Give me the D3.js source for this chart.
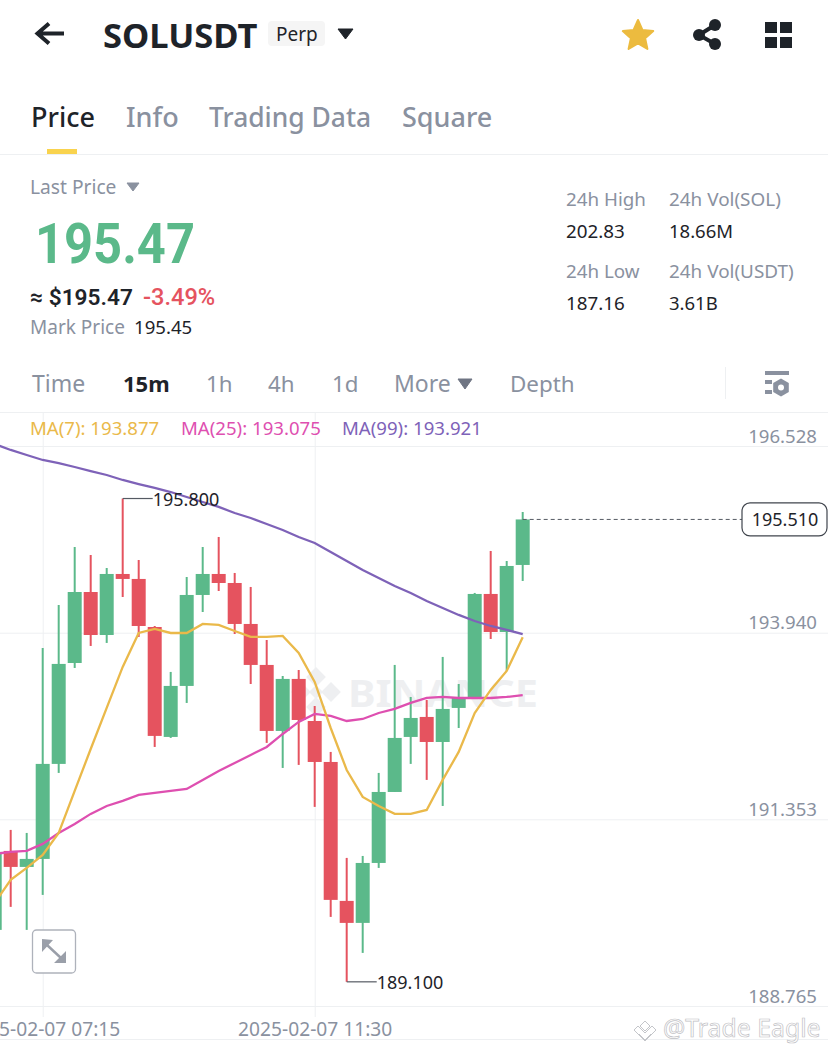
<!DOCTYPE html>
<html>
<head>
<meta charset="utf-8">
<script src="https://cdn.jsdelivr.net/npm/d3@7"></script>
<style>
  body { margin: 0; background: #fff; }
  svg { display: block; }
  text { font-family: "Noto Sans", sans-serif; }
</style>
</head>
<body>
<script>
var w = 828;
var h = 1052;

var dark = '#1e2329';
var grey = '#8a919f';
var green = '#5bb98a';
var red = '#e5535f';
var gridColor = '#eef0f2';
var ma7Color = '#eab94a';
var ma25Color = '#de4fb0';
var ma99Color = '#7e62b8';

// 15m candles, 2025-02-07
var times = ['06:30','06:45','07:00','07:15','07:30','07:45','08:00','08:15','08:30','08:45','09:00',
  '09:15','09:30','09:45','10:00','10:15','10:30','10:45','11:00','11:15','11:30','11:45','12:00',
  '12:15','12:30','12:45','13:00','13:15','13:30','13:45','14:00','14:15','14:30','14:45'];
var opens = [189.820,190.915,190.693,190.804,192.121,193.520,194.504,193.908,194.754,194.685,194.019,
  192.495,193.202,194.463,194.754,194.629,194.061,193.493,192.578,193.299,192.716,192.148,190.222,
  189.917,190.748,191.732,192.495,192.772,192.425,192.897,193.035,194.477,193.950,194.879];
var highs = [191.067,191.206,191.164,193.728,194.324,195.128,195.017,194.837,195.800,194.948,194.033,
  193.396,194.712,195.128,195.267,194.768,194.574,193.839,193.340,193.423,192.924,192.287,190.818,
  190.845,191.996,193.493,193.049,193.008,193.604,193.229,194.491,195.073,194.934,195.613];
var lows = [189.681,190.139,189.820,190.305,191.996,193.451,193.756,193.798,194.435,193.881,192.356,
  192.481,192.966,194.227,194.518,193.922,193.229,192.412,192.065,192.107,191.525,190.000,189.100,
  189.501,190.679,191.732,192.121,191.899,191.538,192.619,193.021,193.853,193.409,194.657];
var closes = [190.901,190.693,190.804,192.121,193.507,194.504,193.908,194.754,194.685,194.033,192.509,
  193.202,194.463,194.754,194.629,194.061,193.493,192.578,193.299,192.730,192.148,190.236,189.917,
  190.748,191.732,192.481,192.758,192.425,192.883,193.035,194.477,193.950,194.865,195.510];
var ma7 = [190.194,190.513,190.679,190.859,191.164,191.746,192.328,192.897,193.465,193.936,193.992,
  193.936,193.936,194.061,194.047,193.964,193.881,193.881,193.895,193.659,193.257,192.619,192.037,
  191.663,191.538,191.428,191.428,191.483,191.899,192.287,192.827,193.146,193.409,193.877];
var ma25 = [190.873,190.901,190.915,191.012,191.164,191.289,191.428,191.538,191.608,191.691,191.719,
  191.746,191.774,191.899,192.023,192.134,192.245,192.356,192.536,192.703,192.814,192.786,192.716,
  192.744,192.827,192.883,192.966,193.035,193.049,193.035,193.035,193.035,193.049,193.075];
var ma99 = [196.556,196.473,196.403,196.334,196.292,196.237,196.181,196.126,196.057,196.001,195.946,
  195.890,195.821,195.752,195.683,195.599,195.530,195.447,195.364,195.267,195.184,195.059,194.934,
  194.809,194.698,194.588,194.491,194.380,194.283,194.186,194.102,194.033,193.978,193.921];

var priceTicks = [196.528, 193.940, 191.353, 188.765];
var timeTicks = ['07:15', '11:30'];
var lastPrice = 195.510;

var parseTime = d3.timeParse('%Y-%m-%d %H:%M');
var formatTime = d3.timeFormat('%Y-%m-%d %H:%M');
function toDate(t) { return parseTime('2025-02-07 ' + t); }

var x = d3.scaleTime()
          .domain([toDate('07:15'), toDate('11:30')])
          .range([42.7, 314.7]);
var y = d3.scaleLinear()
          .domain([188.765, 196.528])
          .range([1006, 446]);

var svg = d3.select('body').append('svg')
            .attr('id', 'chart')
            .attr('width', w)
            .attr('height', h);

function label(txt, px, py, size, color, weight, anchor) {
  return svg.append('text')
      .attr('x', px)
      .attr('y', py)
      .attr('font-size', size)
      .attr('fill', color)
      .attr('font-weight', weight || 400)
      .attr('text-anchor', anchor || 'start')
      .text(txt);
}
function triangle(x0, x1, y0, y1, color) {
  svg.append('path')
      .attr('d', 'M' + x0 + ',' + y0 + 'L' + x1 + ',' + y0 + 'L' + (x0 + x1) / 2 + ',' + y1 + 'Z')
      .attr('fill', color)
      .attr('stroke', color)
      .attr('stroke-linejoin', 'round');
}

// header
svg.append('path')
    .attr('d', 'M64,33.5H38M49,23.5L37.5,33.5L49,43.5')
    .attr('fill', 'none')
    .attr('stroke', dark)
    .attr('stroke-width', 4);
label('SOLUSDT', 103, 48, 34.5, dark, 700);
svg.append('rect')
    .attr('x', 268).attr('y', 21).attr('width', 57).attr('height', 25)
    .attr('rx', 4).attr('fill', '#f5f5f5');
label('Perp', 276, 41, 19, dark);
triangle(338, 353, 29, 39, dark);

// star
var starPts = d3.range(10).map(function(i) {
  var r = i % 2 ? 7.5 : 16;
  var a = i * Math.PI / 5;
  return [638 + r * Math.sin(a), 36 - r * Math.cos(a)];
});
svg.append('polygon')
    .attr('points', starPts.join(' '))
    .attr('fill', '#ecbb3f')
    .attr('stroke', '#ecbb3f')
    .attr('stroke-width', 2)
    .attr('stroke-linejoin', 'round');

// share
svg.append('path')
    .attr('d', 'M715,25L699,35L715,44')
    .attr('fill', 'none')
    .attr('stroke', dark)
    .attr('stroke-width', 4);
[[715, 25], [699, 35], [715, 44]].forEach(function(p) {
  svg.append('circle').attr('cx', p[0]).attr('cy', p[1]).attr('r', 6).attr('fill', dark);
});

// grid icon
[[765, 22], [780, 22], [765, 37], [780, 37]].forEach(function(p) {
  svg.append('rect').attr('x', p[0]).attr('y', p[1]).attr('width', 12).attr('height', 11).attr('fill', dark);
});

// tabs
label('Price', 31, 127, 27, dark, 500);
label('Info', 126, 127, 27, grey, 500);
label('Trading Data', 209, 127, 26.4, grey, 500);
label('Square', 402, 127, 27, grey, 500);
svg.append('rect').attr('x', 47).attr('y', 149).attr('width', 30).attr('height', 5).attr('fill', '#f9d34e');
svg.append('line')
    .attr('x1', 0).attr('x2', w).attr('y1', 154.5).attr('y2', 154.5)
    .attr('stroke', gridColor);

// price block
label('Last Price', 30, 194, 19.2, grey);
triangle(127, 139, 183, 191, grey);
label('195.47', 35, 263, 56, green, 700)
    .style('font-family', 'Roboto')
    .attr('textLength', 160)
    .attr('lengthAdjust', 'spacingAndGlyphs');
label('\u2248 $195.47', 30, 305, 22.7, dark, 600).style('font-family', 'Roboto');
label('-3.49%', 143, 305, 23.6, red, 500).style('font-family', 'Roboto');
label('Mark Price', 30, 334, 19, grey);
label('195.45', 134, 334, 18.6, dark);

label('24h High', 566, 206, 18.8, grey);
label('202.83', 566, 238, 18.8, dark);
label('24h Low', 566, 278, 18.8, grey);
label('187.16', 566, 310, 18.8, dark);
label('24h Vol(SOL)', 669, 206, 18.9, grey);
label('18.66M', 669, 238, 18.5, dark);
label('24h Vol(USDT)', 669, 278, 18.9, grey);
label('3.61B', 669, 310, 18.5, dark);

// interval row
label('Time', 32, 392, 23, grey);
label('15m', 123, 392, 22, dark, 700);
label('1h', 206, 392, 22.3, grey);
label('4h', 268, 392, 22.3, grey);
label('1d', 332, 392, 22.3, grey);
label('More', 394, 392, 23, grey);
triangle(458, 472, 379, 389, '#6f7583');
label('Depth', 510, 392, 22.4, grey);
svg.append('line')
    .attr('x1', 725.5).attr('x2', 725.5).attr('y1', 367).attr('y2', 399)
    .attr('stroke', gridColor);

// settings icon
svg.append('rect').attr('x', 765).attr('y', 371).attr('width', 24).attr('height', 4).attr('fill', grey);
svg.append('rect').attr('x', 765).attr('y', 380).attr('width', 7).attr('height', 4).attr('fill', grey);
svg.append('rect').attr('x', 765).attr('y', 390).attr('width', 7).attr('height', 4).attr('fill', grey);
var hexPts = d3.range(6).map(function(i) {
  var a = i * Math.PI / 3;
  return [781 + 9 * Math.sin(a), 387.5 - 9 * Math.cos(a)];
});
svg.append('polygon').attr('points', hexPts.join(' ')).attr('fill', grey);
svg.append('circle').attr('cx', 781).attr('cy', 387.5).attr('r', 3).attr('fill', '#fff');

// chart frame
[412.5, 1039.5].forEach(function(ly) {
  svg.append('line')
      .attr('x1', 0).attr('x2', w).attr('y1', ly).attr('y2', ly)
      .attr('stroke', gridColor);
});

// axes, ticks stretched into gridlines
var yAxis = d3.axisRight(y)
              .tickValues(priceTicks)
              .tickFormat(d3.format('.3f'))
              .tickSize(w);
var yAxisG = svg.append('g').attr('class', 'y axis').call(yAxis);
yAxisG.select('.domain').remove();
yAxisG.selectAll('line').attr('stroke', gridColor);
yAxisG.selectAll('text')
    .attr('x', 817)
    .attr('dy', -4)
    .attr('text-anchor', 'end')
    .attr('font-size', 18.6)
    .attr('font-family', 'Noto Sans')
    .attr('fill', grey);

var xAxis = d3.axisBottom(x)
              .tickValues(timeTicks.map(toDate))
              .tickFormat(formatTime)
              .tickSizeInner(-605)
              .tickSizeOuter(0)
              .tickPadding(5);
var xAxisG = svg.append('g').attr('class', 'x axis')
                .attr('transform', 'translate(0,1017)')
                .call(xAxis);
xAxisG.select('.domain').remove();
xAxisG.selectAll('line').attr('stroke', gridColor);
xAxisG.selectAll('text')
    .attr('font-size', 19.2)
    .attr('font-family', 'Noto Sans')
    .attr('fill', grey);

// watermark under the candles
[[316, 677, 7], [301, 692, 7], [331, 692, 7], [316, 707, 7], [316, 692, 5]].forEach(function(p) {
  svg.append('rect')
      .attr('x', p[0] - p[2]).attr('y', p[1] - p[2]).attr('width', p[2] * 2).attr('height', p[2] * 2)
      .attr('transform', 'rotate(45 ' + p[0] + ' ' + p[1] + ')')
      .attr('fill', '#eeeff1');
});
label('BINANCE', 348, 707, 38, '#eeeff1', 700)
    .attr('textLength', 190)
    .attr('lengthAdjust', 'spacingAndGlyphs');

// candles
var candles = times.map(function(t, i) {
  return { time: toDate(t), open: opens[i], high: highs[i], low: lows[i], close: closes[i] };
});
function candleColor(d) { return d.close >= d.open ? green : red; }

var display = svg.append('g').classed('display', true);
display.selectAll('.wick')
    .data(candles)
    .enter()
      .append('line')
      .classed('wick', true)
      .attr('x1', function(d) { return x(d.time); })
      .attr('x2', function(d) { return x(d.time); })
      .attr('y1', function(d) { return y(d.high); })
      .attr('y2', function(d) { return y(d.low); })
      .attr('stroke', candleColor)
      .attr('stroke-width', 2);
display.selectAll('.body')
    .data(candles)
    .enter()
      .append('rect')
      .classed('body', true)
      .attr('x', function(d) { return x(d.time) - 7; })
      .attr('y', function(d) { return y(Math.max(d.open, d.close)); })
      .attr('width', 14)
      .attr('height', function(d) { return Math.abs(y(d.open) - y(d.close)); })
      .attr('fill', candleColor);

// moving averages
var maLine = d3.line()
               .x(function(d, i) { return x(toDate(times[i])); })
               .y(function(d) { return y(d); });
[[ma99, ma99Color], [ma25, ma25Color], [ma7, ma7Color]].forEach(function(m) {
  display.append('path')
      .attr('d', maLine(m[0]))
      .attr('fill', 'none')
      .attr('stroke', m[1])
      .attr('stroke-width', 2.3);
});

label('MA(7): 193.877', 30, 435, 18.6, ma7Color);
label('MA(25): 193.075', 181, 435, 18.6, ma25Color);
label('MA(99): 193.921', 342, 435, 18.6, ma99Color);

// high and low callouts
function callout(candle, value) {
  var cx = x(candle.time);
  var cy = y(value);
  svg.append('line')
      .attr('x1', cx).attr('x2', cx + 30).attr('y1', cy).attr('y2', cy)
      .attr('stroke', '#555a63').attr('stroke-width', 1.2);
  label(value.toFixed(3), cx + 30, cy + 7, 18, dark);
}
var maxHigh = d3.max(highs);
var minLow = d3.min(lows);
callout(candles[highs.indexOf(maxHigh)], maxHigh);
callout(candles[lows.indexOf(minLow)], minLow);

// last price tag
svg.append('line')
    .attr('x1', x(toDate(times[times.length - 1]))).attr('x2', 742)
    .attr('y1', y(lastPrice)).attr('y2', y(lastPrice))
    .attr('stroke', '#555a63')
    .attr('stroke-dasharray', '4 3');
svg.append('rect')
    .attr('x', 742).attr('y', y(lastPrice) - 16.5).attr('width', 85).attr('height', 33)
    .attr('rx', 8).attr('fill', '#fff').attr('stroke', '#40454d').attr('stroke-width', 1.2);
label(lastPrice.toFixed(3), 785, y(lastPrice) + 7, 18, dark, 400, 'middle');

// expand button
svg.append('rect')
    .attr('x', 32.5).attr('y', 930).attr('width', 43).attr('height', 43)
    .attr('rx', 4).attr('fill', '#fff').attr('stroke', '#aeb2bb').attr('stroke-width', 1.3);
svg.append('path')
    .attr('d', 'M42,939L53,940L42,952ZM66,951V963H54Z')
    .attr('fill', '#9a9fa9');
svg.append('line')
    .attr('x1', 47).attr('y1', 945).attr('x2', 61).attr('y2', 958)
    .attr('stroke', '#9a9fa9')
    .attr('stroke-width', 2.4);

// corner watermark
svg.append('path')
    .attr('d', 'M645,1021l5,5l-5,5l-5,-5ZM634,1030l4,-4l7,7l7,-7l4,4l-11,11ZM639,1034l6,6l6,-6')
    .attr('fill', '#fff')
    .attr('stroke', '#c4c6ca');
label('@Trade Eagle', 663, 1037, 24.8, '#fff')
    .attr('stroke', '#bfc1c5')
    .attr('stroke-width', 0.7);
</script>
</body>
</html>
